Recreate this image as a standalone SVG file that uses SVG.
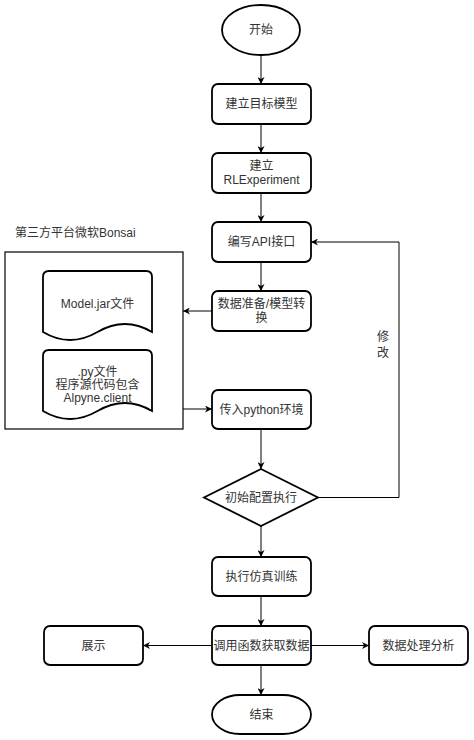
<svg xmlns="http://www.w3.org/2000/svg" width="474" height="740" viewBox="0 0 474 740">
<defs>
<marker id="arr" viewBox="0 0 10 10" refX="10" refY="5" markerWidth="7" markerHeight="7" markerUnits="userSpaceOnUse" orient="auto">
<path d="M0,0 L10,5 L0,10 L3,5 Z" fill="#000"/>
</marker>
<style>
.n{fill:#fff;stroke:#000;stroke-width:1.8}
.c{fill:none;stroke:#000;stroke-width:1}
.t{font-family:"Liberation Sans","Noto Sans CJK SC",sans-serif;font-size:12px;fill:#333;text-anchor:middle;dominant-baseline:central}
.l{font-family:"Liberation Sans","Noto Sans CJK SC",sans-serif;font-size:12px;fill:#333}
</style>
</defs>
<rect width="474" height="740" fill="#fff"/>
<g id="connectors">
<path class="c" d="M261,55 V84" marker-end="url(#arr)"/>
<path class="c" d="M261,124 V153" marker-end="url(#arr)"/>
<path class="c" d="M261,193 V222" marker-end="url(#arr)"/>
<path class="c" d="M261,262 V291" marker-end="url(#arr)"/>
<path class="c" d="M212,311 H183" marker-end="url(#arr)"/>
<path class="c" d="M183,409 H212" marker-end="url(#arr)"/>
<path class="c" d="M261,429 V469" marker-end="url(#arr)"/>
<path class="c" d="M318,497.5 H399 V242 H311" marker-end="url(#arr)"/>
<path class="c" d="M261,526 V557" marker-end="url(#arr)"/>
<path class="c" d="M261,596 V626" marker-end="url(#arr)"/>
<path class="c" d="M212,645.5 H143" marker-end="url(#arr)"/>
<path class="c" d="M311,645.5 H369" marker-end="url(#arr)"/>
<path class="c" d="M261,665 V695" marker-end="url(#arr)"/>
<text class="t" x="383" y="337">修</text>
<text class="t" x="383" y="353">改</text>
</g>
<g id="bonsai">
<text class="l" x="15" y="236.5">第三方平台微软Bonsai</text>
<rect x="5" y="252" width="178" height="177" fill="#fff" stroke="#000" stroke-width="1.2"/>
</g>
<g id="start">
<ellipse class="n" cx="261" cy="30" rx="39" ry="25"/>
<text class="t" x="261" y="30">开始</text>
</g>
<g id="n1">
<rect class="n" x="212" y="84" width="99" height="40" rx="6"/>
<text class="t" x="261.5" y="104">建立目标模型</text>
</g>
<g id="n2">
<rect class="n" x="212" y="153" width="99" height="40" rx="6"/>
<text class="t" x="261.5" y="166">建立</text>
<text class="t" x="261.5" y="180">RLExperiment</text>
</g>
<g id="n3">
<rect class="n" x="212" y="222" width="99" height="40" rx="6"/>
<text class="t" x="261.5" y="242">编写API接口</text>
</g>
<g id="n4">
<rect class="n" x="212" y="291" width="99" height="40" rx="6"/>
<text class="t" x="261.5" y="304">数据准备/模型转</text>
<text class="t" x="261.5" y="318">换</text>
</g>
<g id="doc1">
<path class="n" d="M43,277 Q43,271 49,271 H146 Q152,271 152,277 V332 Q125,316 97.5,332 Q70,348 43,332 Z"/>
<text class="t" x="97.5" y="304">Model.jar文件</text>
</g>
<g id="doc2">
<path class="n" d="M43,356 Q43,350 49,350 H146 Q152,350 152,356 V411 Q125,395 97.5,411 Q70,427 43,411 Z"/>
<text class="t" x="97.5" y="372">.py文件</text>
<text class="t" x="97.5" y="385">程序源代码包含</text>
<text class="t" x="97.5" y="398">Alpyne.client</text>
</g>
<g id="n5">
<rect class="n" x="212" y="390" width="99" height="39" rx="6"/>
<text class="t" x="261.5" y="409.5">传入python环境</text>
</g>
<g id="decision">
<path class="n" d="M261,469 L318,497.5 L261,526 L204,497.5 Z"/>
<text class="t" x="261" y="497.5">初始配置执行</text>
</g>
<g id="n6">
<rect class="n" x="212" y="557" width="99" height="39" rx="6"/>
<text class="t" x="261.5" y="576.5">执行仿真训练</text>
</g>
<g id="n7">
<rect class="n" x="212" y="626" width="99" height="39" rx="6"/>
<text class="t" x="261.5" y="645.5">调用函数获取数据</text>
</g>
<g id="show">
<rect class="n" x="44" y="626" width="99" height="39" rx="6"/>
<text class="t" x="93.5" y="645.5">展示</text>
</g>
<g id="analysis">
<rect class="n" x="369" y="626" width="99" height="39" rx="6"/>
<text class="t" x="418.5" y="645.5">数据处理分析</text>
</g>
<g id="end">
<rect class="n" x="212" y="695" width="99" height="39" rx="28" ry="19.5"/>
<text class="t" x="261.5" y="714.5">结束</text>
</g>
</svg>
